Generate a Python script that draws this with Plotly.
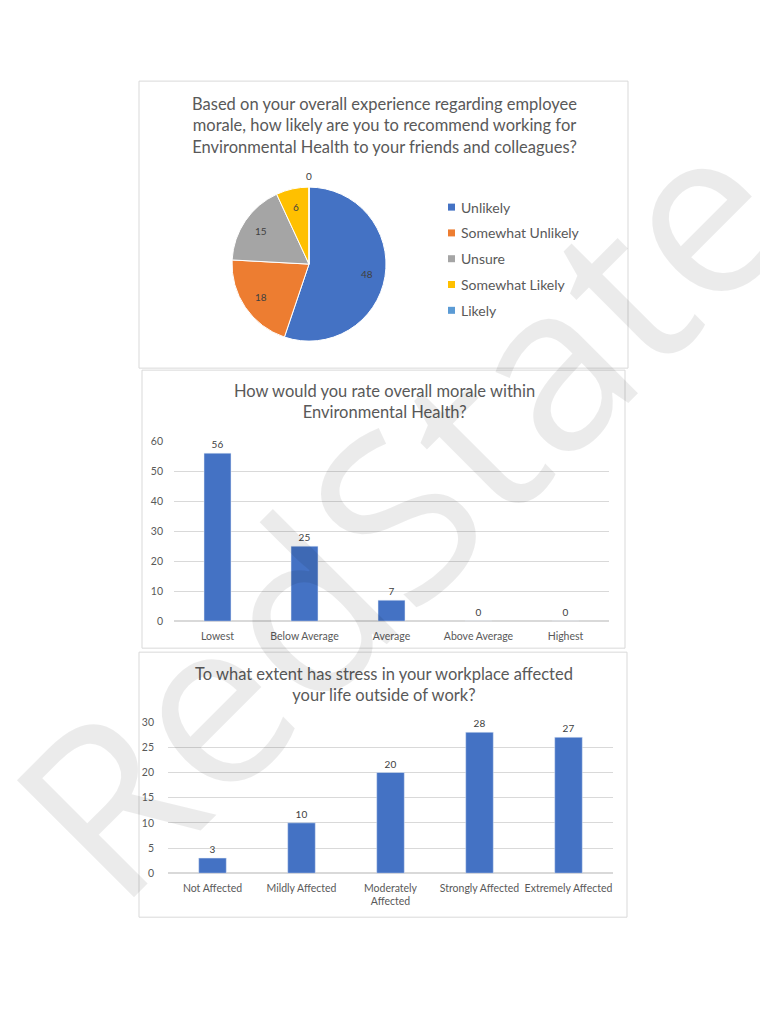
import math
import plotly.graph_objects as go

# page body has an 8px margin; figure sized so page is exactly 768x1024
OFF = 8
W, H = 768 - 2 * OFF, 1024 - 2 * OFF

# ---- data ----
pie_title = "Based on your overall experience regarding employee<br>morale, how likely are you to recommend working for<br>Environmental Health to your friends and colleagues?"
pie_labels = ["Unlikely", "Somewhat Unlikely", "Unsure", "Somewhat Likely", "Likely"]
pie_values = [48, 18, 15, 6, 0]
pie_colors = ["#4472C4", "#ED7D31", "#A5A5A5", "#FFC000", "#5B9BD5"]

bar1_title = "How would you rate overall morale within<br>Environmental Health?"
bar1_cats = ["Lowest", "Below Average", "Average", "Above Average", "Highest"]
bar1_vals = [56, 25, 7, 0, 0]

bar2_title = "To what extent has stress in your workplace affected<br>your life outside of work?"
bar2_cats = ["Not Affected", "Mildly Affected", "Moderately<br>Affected", "Strongly Affected", "Extremely Affected"]
bar2_vals = [3, 10, 20, 28, 27]

watermark = "RedState"

TXT = "#595959"
LBL = "#404040"
GRID = "#D9D9D9"
FONT = "Lato"

# observed vertical mapping of the photographed page (target y -> page y)
SY, BY = 0.988, 6.0


def px(x):
    return (x - OFF) / W


def py(y):
    yp = (y - BY) / SY
    return 1 - (yp - OFF) / H


fig = go.Figure()

# pie geometry (target pixels)
PCX, PCY, PR = 309, 264, 77
fig.add_trace(go.Pie(
    labels=pie_labels, values=pie_values, marker=dict(colors=pie_colors, line=dict(color="white", width=1)),
    sort=False, direction="clockwise", rotation=0,
    textinfo="none",
    domain=dict(x=[px(PCX - PR), px(PCX + PR)], y=[py(PCY + PR), py(PCY - PR)]),
    showlegend=False, hoverinfo="label+value"))

fig.add_trace(go.Bar(
    x=bar1_cats, y=bar1_vals, marker_color="#4472C4", text=bar1_vals, textposition="outside",
    textfont=dict(size=10, color=LBL, family=FONT), cliponaxis=False,
    xaxis="x", yaxis="y", showlegend=False))

fig.add_trace(go.Bar(
    x=bar2_cats, y=bar2_vals, marker_color="#4472C4", text=bar2_vals, textposition="outside",
    textfont=dict(size=10, color=LBL, family=FONT), cliponaxis=False,
    xaxis="x2", yaxis="y2", showlegend=False))

axis_common = dict(tickfont=dict(size=10.5, color=TXT, family=FONT), fixedrange=True)

fig.update_layout(
    width=W, height=H, margin=dict(l=0, r=0, t=0, b=0),
    paper_bgcolor="white", plot_bgcolor="rgba(0,0,0,0)",
    bargap=0.69,
    xaxis=dict(domain=[px(174), px(609)], anchor="y", showgrid=False, showline=False,
               ticks="", ticklabelstandoff=7, **axis_common),
    yaxis=dict(domain=[py(621), py(441)], anchor="x", range=[0, 60], dtick=10,
               showgrid=True, gridcolor=GRID, zeroline=True, zerolinecolor=GRID,
               ticklabelstandoff=10, **axis_common),
    xaxis2=dict(domain=[px(168), px(613)], anchor="y2", showgrid=False, showline=False,
                ticks="", ticklabelstandoff=7, **axis_common),
    yaxis2=dict(domain=[py(873), py(722)], anchor="x2", range=[0, 30], dtick=5,
                showgrid=True, gridcolor=GRID, zeroline=True, zerolinecolor=GRID,
                ticklabelstandoff=13, **axis_common),
)

# chart borders
for (x0, y0, x1, y1) in [(139, 81, 628, 368), (142, 370, 625, 648), (139, 652, 627, 917)]:
    fig.add_shape(type="rect", xref="paper", yref="paper", x0=px(x0), x1=px(x1), y0=py(y1), y1=py(y0),
                  line=dict(color=GRID, width=1), layer="below")

ann = []
ann.append(dict(text=pie_title, x=px(384), y=py(125), xanchor="center", yanchor="middle",
                font=dict(size=16.5, color=TXT, family=FONT)))
ann.append(dict(text=bar1_title, x=px(384), y=py(401), xanchor="center", yanchor="middle",
                font=dict(size=16.5, color=TXT, family=FONT)))
ann.append(dict(text=bar2_title, x=px(384), y=py(684), xanchor="center", yanchor="middle",
                font=dict(size=16.5, color=TXT, family=FONT)))

# pie data labels, placed at each slice's mid-angle (zero slices labelled just outside)
total = sum(pie_values)
cum = 0
for v in pie_values:
    mid = (cum + v / 2) / total * 2 * math.pi
    cum += v
    r = PR * (0.76 if v > 0 else 1.14)
    lx = PCX + r * math.sin(mid)
    ly = PCY - r * math.cos(mid)
    ann.append(dict(text=str(v), x=px(lx), y=py(ly), xanchor="center", yanchor="middle",
                    font=dict(size=10, color=LBL, family=FONT)))

# legend for pie
for i, (lab, col) in enumerate(zip(pie_labels, pie_colors)):
    yc = 207 + i * 25.8
    fig.add_shape(type="rect", xref="paper", yref="paper", x0=px(448), x1=px(455), y0=py(yc + 3.5), y1=py(yc - 3.5),
                  fillcolor=col, line=dict(width=0))
    ann.append(dict(text=lab, x=px(459), y=py(yc), xanchor="left", yanchor="middle",
                    font=dict(size=14, color=TXT, family=FONT)))

# watermark
ann.append(dict(text=watermark, x=px(396), y=py(508), xanchor="center", yanchor="middle",
                textangle=-45, font=dict(size=232, color="rgba(0,0,0,0.08)", family="Open Sans", weight=500)))

for a in ann:
    a.setdefault("xref", "paper")
    a.setdefault("yref", "paper")
    a.setdefault("showarrow", False)
fig.update_layout(annotations=ann)

fig.write_html("out.html")
